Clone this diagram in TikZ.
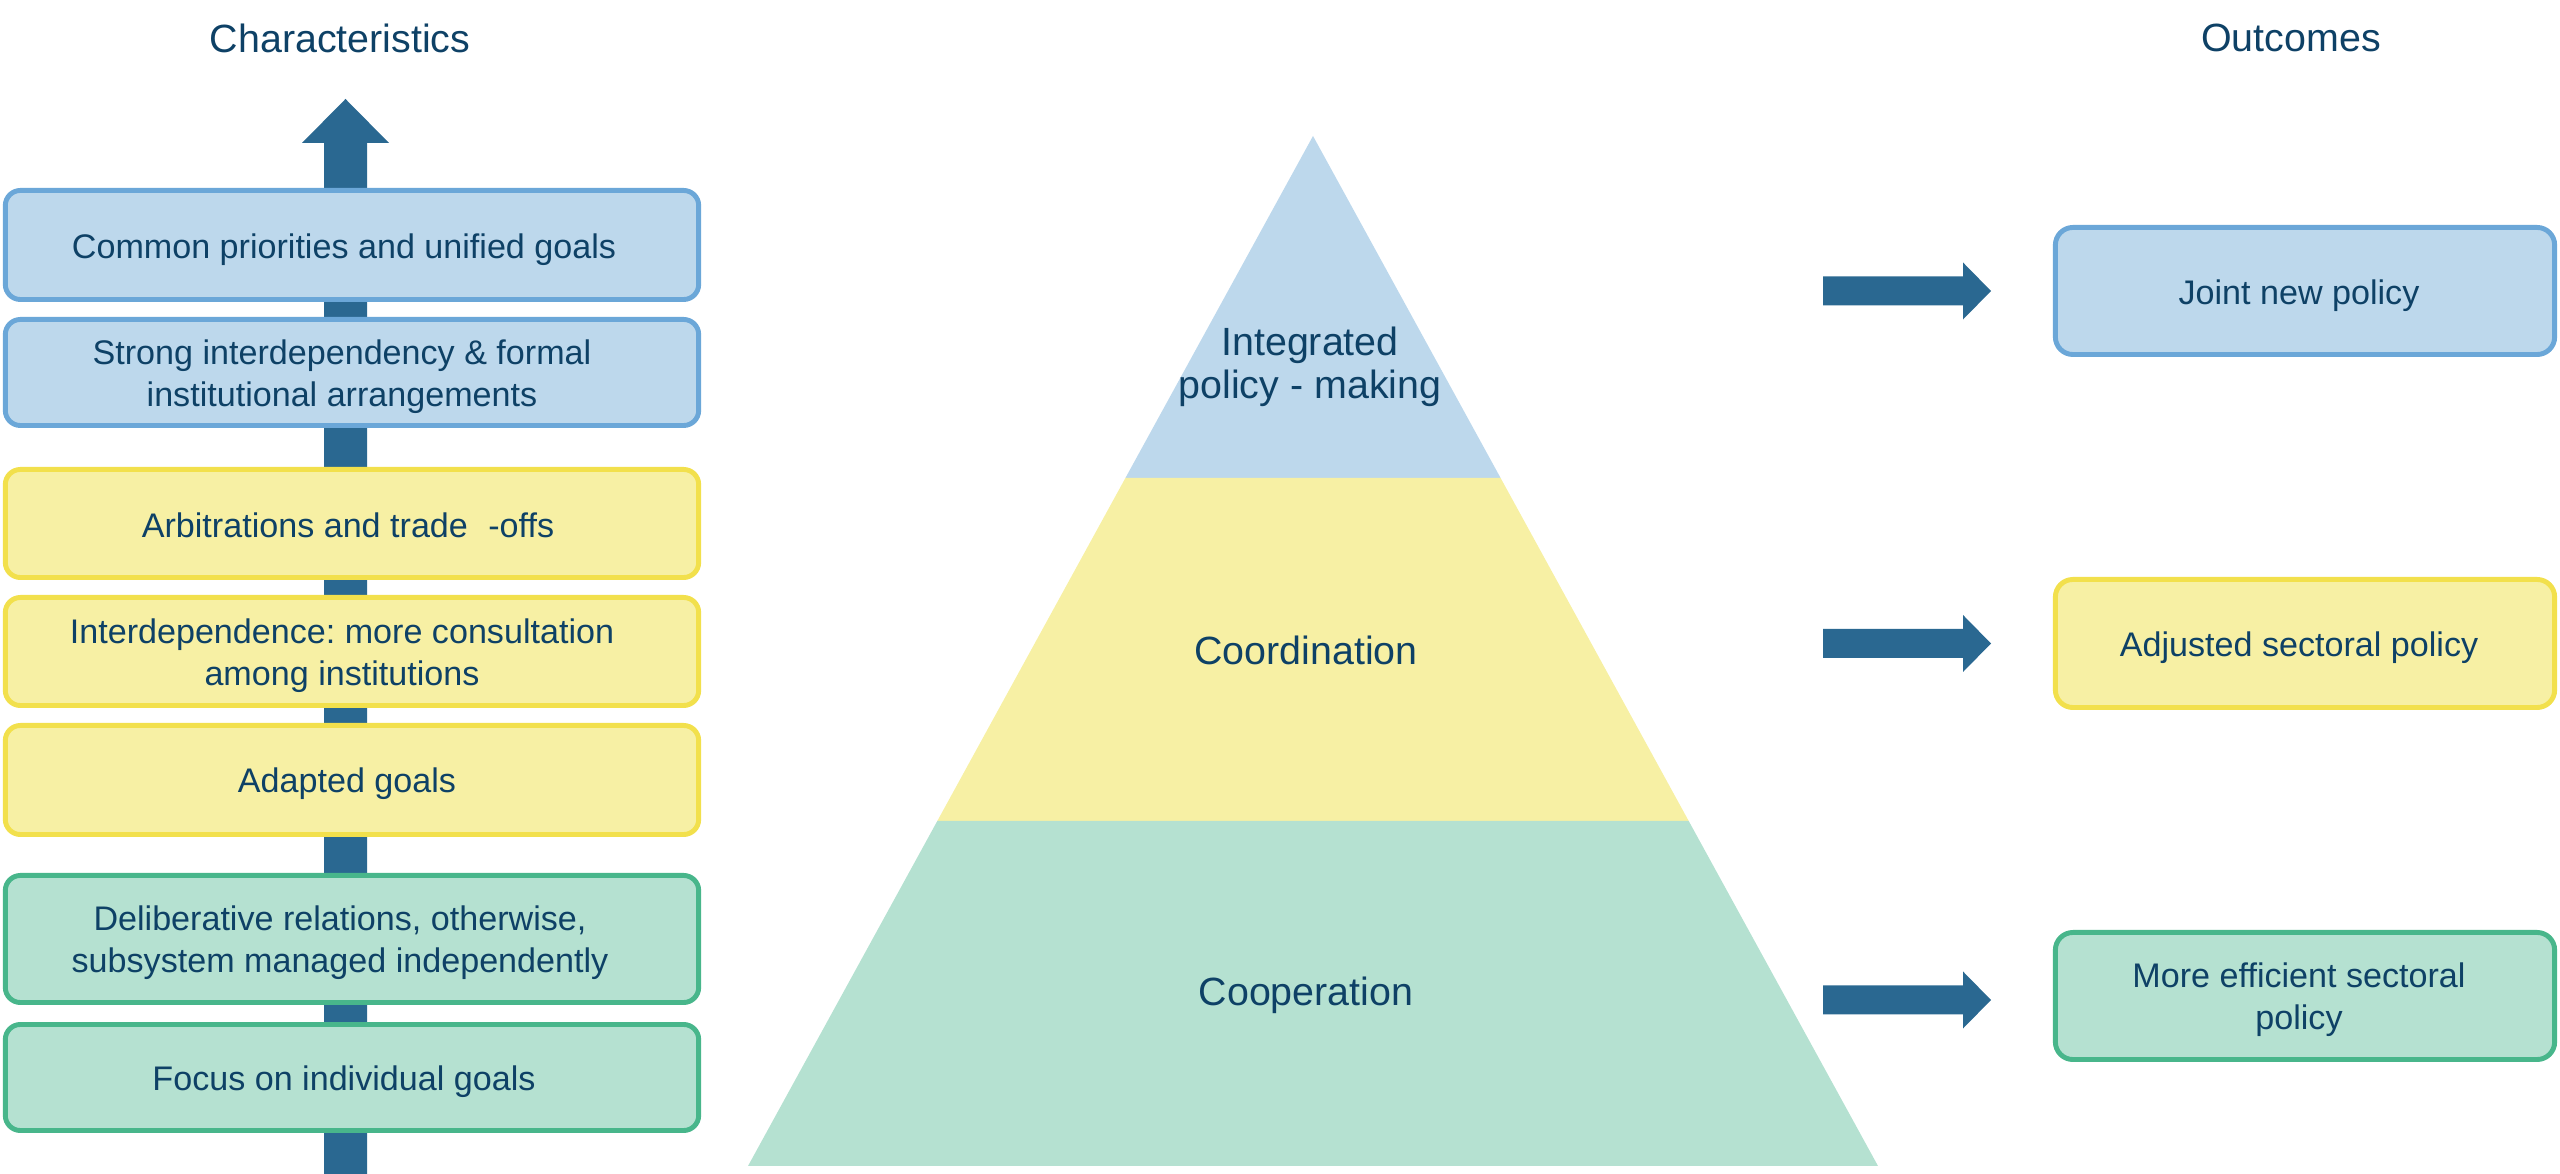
\documentclass[tikz,border=0pt]{standalone}
\usepackage{fontspec}
\setmainfont{Liberation Sans}
\frenchspacing
\definecolor{txt}{HTML}{0E4166}
\definecolor{arrowc}{HTML}{2A6891}
\definecolor{bfill}{HTML}{BDD8EC}
\definecolor{bline}{HTML}{6BA7D8}
\definecolor{yfill}{HTML}{F7F0A4}
\definecolor{yline}{HTML}{F2E04C}
\definecolor{gfill}{HTML}{B5E1D1}
\definecolor{gline}{HTML}{48B68B}
\begin{document}
\begin{tikzpicture}[x=0.01cm,y=-0.01cm,
  boxbase/.style={draw, line width=1.4pt, rounded corners=4.3pt, inner sep=0pt},
  cbox/.style={boxbase, minimum width=6.93cm},
  obox/.style={boxbase, minimum width=4.99cm, rounded corners=5pt},
  bluebox/.style={fill=bfill, draw=bline},
  yelbox/.style={fill=yfill, draw=yline},
  grnbox/.style={fill=gfill, draw=gline},
  boxtext/.style={text=txt, font=\fontsize{9.7}{12}\selectfont, align=center, inner sep=0pt},
  title/.style={text=txt, font=\fontsize{11.2}{13}\selectfont},
  pyrtext/.style={text=txt, font=\fontsize{11.2}{12.3}\selectfont, align=center}]
\useasboundingbox (0,0) rectangle (2560,1174);

% titles
\node[title] (chartitle) at (340,38) {Characteristics};
\node[title] (outtitle) at (2291,38) {Outcomes};

% vertical block arrow behind the left boxes
\coordinate (vtail) at (345.5,1174);
\coordinate (vtip) at (345.5,99);
\fill[arrowc] (vtail) ++(-21.5,0) -- ++(0,-1031) -- ++(-22,0) -- (vtip)
  -- ++(43.5,44) -- ++(-22,0) -- ++(0,1031) -- cycle;

% left boxes
\node[cbox,bluebox,minimum height=1.09cm] (c1) at (352,245) {};
\node[cbox,bluebox,minimum height=1.06cm] (c2) at (352,372.5) {};
\node[cbox,yelbox,minimum height=1.08cm] (c3) at (352,523.5) {};
\node[cbox,yelbox,minimum height=1.08cm] (c4) at (352,651.5) {};
\node[cbox,yelbox,minimum height=1.09cm] (c5) at (352,780) {};
\node[cbox,grnbox,minimum height=1.27cm] (c6) at (352,939) {};
\node[cbox,grnbox,minimum height=1.06cm] (c7) at (352,1077.5) {};
\node[boxtext] (c1t) at ([xshift=-0.08cm,yshift=-0.045cm]c1.center) {Common priorities and unified goals};
\node[boxtext] (c2t) at ([xshift=-0.1cm,yshift=-0.045cm]c2.center) {Strong interdependency \& formal\\institutional arrangements};
\node[boxtext] (c3t) at ([xshift=-0.04cm,yshift=-0.02cm]c3.center) {Arbitrations and trade\hspace{0.6em}-offs};
\node[boxtext] (c4t) at ([xshift=-0.1cm,yshift=-0.04cm]c4.center) {Interdependence: more consultation\\among institutions};
\node[boxtext] (c5t) at ([xshift=-0.05cm,yshift=-0.04cm]c5.center) {Adapted goals};
\node[boxtext] (c6t) at ([xshift=-0.12cm,yshift=-0.04cm]c6.center) {Deliberative relations, otherwise,\\subsystem managed independently};
\node[boxtext] (c7t) at ([xshift=-0.08cm,yshift=-0.04cm]c7.center) {Focus on individual goals};

% pyramid
\fill[bfill] (1313,136) -- (1500.6,478) -- (1125.4,478) -- cycle;
\fill[yfill] (1125.4,478) -- (1500.6,478) -- (1688.7,821) -- (937.3,821) -- cycle;
\fill[gfill] (937.3,821) -- (1688.7,821) -- (1878,1166) -- (748,1166) -- cycle;
\node[pyrtext] (p1) at (1310,367) {Integrated\\policy - making};
\node[pyrtext] (p2) at (1306,650) {Coordination};
\node[pyrtext] (p3) at (1306,995) {Cooperation};

% outcome boxes
\node[obox,bluebox,minimum height=1.27cm] (o1) at (2305,291) {};
\node[obox,yelbox,minimum height=1.28cm] (o2) at (2305,643.5) {};
\node[obox,grnbox,minimum height=1.27cm] (o3) at (2305,996) {};
\node[boxtext] (o1t) at ([xshift=-0.06cm,yshift=-0.045cm]o1.center) {Joint new policy};
\node[boxtext] (o2t) at ([xshift=-0.06cm,yshift=-0.045cm]o2.center) {Adjusted sectoral policy};
\node[boxtext] (o3t) at ([xshift=-0.06cm,yshift=-0.04cm]o3.center) {More efficient sectoral\\policy};

% right block arrows
\coordinate (t1) at (1823,291);   \coordinate (h1) at (1991,291);
\coordinate (t2) at (1823,643.5); \coordinate (h2) at (1991,643.5);
\coordinate (t3) at (1823,1000);  \coordinate (h3) at (1991,1000);
\foreach \i in {1,2,3}{
  \fill[arrowc] (t\i) ++(0,-14.5) -- ++(140,0) -- ++(0,-14) -- (h\i)
    -- ++(-28,28.5) -- ++(0,-14) -- ++(-140,0) -- cycle;
}
\end{tikzpicture}
\end{document}
